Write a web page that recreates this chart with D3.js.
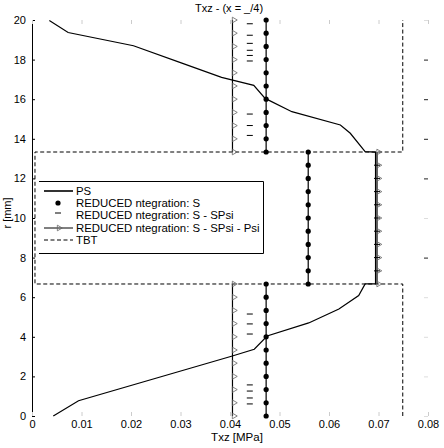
<!DOCTYPE html>
<html><head><meta charset="utf-8">
<script src="https://cdn.jsdelivr.net/npm/d3@7"></script>
<style>
body{margin:0;background:#fff;}
text{font-family:"Liberation Sans",Arial,sans-serif;font-size:11px;fill:#000;}
</style></head>
<body><svg id="c" width="444" height="448"></svg>
<script>
// ---- data ----
const xTicks = [0,0.01,0.02,0.03,0.04,0.05,0.06,0.07,0.08];
const xTickLabels = ["0","0.01","0.02","0.03","0.04","0.05","0.06","0.07","0.08"];
const yTicks = [0,2,4,6,8,10,12,14,16,18,20];
const seriesNames = ["PS","REDUCED  ntegration: S","REDUCED  ntegration: S - SPsi","REDUCED  ntegration: S - SPsi - Psi","TBT"];
const titleText = "Txz - (x = _/4)";
const xLabel = "Txz [MPa]";
const yLabel = "r [mm]";

// PS curve (x, z)
const psX = [0.0043,0.0094,0.0403,0.0449,0.0475,0.0559,0.0620,0.0660,0.0673,0.0694,0.0694,0.0673,0.0643,0.0623,0.0525,0.0471,0.0448,0.0383,0.0300,0.0205,0.0073,0.0035];
const psZ = [0.00,0.77,3.02,3.37,4.04,4.70,5.40,6.08,6.67,6.67,13.33,13.35,14.28,14.70,15.37,16.04,16.70,17.10,17.85,18.70,19.37,19.97];

// layered z grid (10 sub-steps per layer)
const zLow  = [0,0.667,1.333,2,2.667,3.333,4,4.667,5.333,6,6.667];
const zMid  = [6.667,7.333,8,8.667,9.333,10,10.667,11.333,12,12.667,13.333];
const zTop  = [13.333,14,14.667,15.333,16,16.667,17.333,18,18.667,19.333,20];

// REDUCED S values per layer
const sLayerX = [0.0473,0.0558,0.0473];
// REDUCED S - SPsi values per layer and visible marker z
const sspX = [0.0440,0.0697,0.0440];
const sspZLow = [0.61,0.91,1.26,1.57,4.14,4.65,5.15];
const sspZMid = [7.33,8,8.667,9.333,10,10.667,11.333,12,12.667];
const sspZTop = [14.17,14.67,15.25,17.93,18.21,18.47,18.82,19.23,19.81];
// REDUCED S - SPsi - Psi values per layer
const ssppX = [0.0405,0.0697,0.0405];
// TBT
const tbtX = [0.0749,0.0749,0.0006,0.0006,0.0749,0.0749];
const tbtZ = [0,6.667,6.667,13.333,13.333,20];

// ---- chart ----
const svg = d3.select("#c");
const x = d3.scaleLinear().domain([0,0.08]).range([32,428]);
const y = d3.scaleLinear().domain([0,20]).range([416,20]);
const line = d3.line().x(d=>x(d[0])).y(d=>y(d[1]));

// left axis
const gl = svg.append("g").attr("transform","translate(32,0)")
  .call(d3.axisLeft(y).tickValues(yTicks).tickSize(-3).tickPadding(6).tickFormat(d3.format("d")));
gl.select(".domain").attr("stroke","#000");
gl.selectAll("text").style("font-family","Liberation Sans, Arial").style("font-size","11px");
// bottom ticks (faint) + labels
const gb = svg.append("g").attr("transform","translate(0,416)")
  .call(d3.axisBottom(x).tickValues(xTicks).tickSize(-4).tickPadding(4).tickFormat((d,i)=>xTickLabels[i]));
gb.select(".domain").remove();
gb.selectAll("line").attr("stroke","#ccc");
gb.selectAll("text").style("font-family","Liberation Sans, Arial").style("font-size","11px");
// top faint ticks
const gt = svg.append("g").attr("transform","translate(0,20)")
  .call(d3.axisTop(x).tickValues(xTicks).tickSize(-4).tickFormat(""));
gt.select(".domain").remove();
gt.selectAll("line").attr("stroke","#ccc");
// right ticks
const gr = svg.append("g").attr("transform","translate(428,0)")
  .call(d3.axisRight(y).tickValues(yTicks).tickSize(-4).tickFormat(""));
gr.select(".domain").remove();
gr.selectAll("line").attr("stroke",(d)=> [12,14,16,18,8].includes(d)?"#222":"#ddd");

// TBT dashed
svg.append("path").datum(tbtX.map((v,i)=>[v,tbtZ[i]]))
  .attr("d",line).attr("fill","none").attr("stroke","#000").attr("stroke-width",1).attr("stroke-dasharray","4,2.5");

// PS
svg.append("path").datum(psX.map((v,i)=>[v,psZ[i]]))
  .attr("d",line).attr("fill","none").attr("stroke","#000").attr("stroke-width",1.2);

const layersZ = [zLow,zMid,zTop];
// S - SPsi - Psi lines + triangle markers
const tri = d3.symbol().type(d3.symbolTriangle).size(14);
layersZ.forEach((zs,k)=>{
  const pts = zs.map(z=>[ssppX[k],z]);
  svg.append("path").datum(pts).attr("d",line).attr("fill","none").attr("stroke","#000").attr("stroke-width",1.2);
  svg.append("g").selectAll("path").data(pts).join("path")
    .attr("d",tri).attr("transform",d=>`translate(${x(d[0])+1.5},${y(d[1])}) rotate(90)`)
    .attr("fill","none").attr("stroke","#666").attr("stroke-width",0.8);
});

// S - SPsi markers ("-")
[sspZLow,sspZMid,sspZTop].forEach((zs,k)=>{
  svg.append("g").selectAll("line").data(zs).join("line")
    .attr("x1",z=>x(sspX[k])-3).attr("x2",z=>x(sspX[k])+3)
    .attr("y1",z=>y(z)).attr("y2",z=>y(z))
    .attr("stroke","#000").attr("stroke-width",1);
});

// REDUCED S
layersZ.forEach((zs,k)=>{
  const pts = zs.map(z=>[sLayerX[k],z]);
  svg.append("path").datum(pts).attr("d",line).attr("fill","none").attr("stroke","#000").attr("stroke-width",1.2);
  svg.append("g").selectAll("circle").data(pts).join("circle")
    .attr("cx",d=>x(d[0])).attr("cy",d=>y(d[1])).attr("r",2.6).attr("fill","#000");
});

// legend
const lg = svg.append("g");
lg.append("rect").attr("x",39).attr("y",181).attr("width",225).attr("height",73).attr("fill","#fff").attr("stroke","none");
lg.append("path").attr("d","M39,181.5H263.5V253.5H39").attr("fill","none").attr("stroke","#000");
const rowY = [191,203,215,228,240];
seriesNames.forEach((n,i)=>{
  lg.append("text").attr("x",76).attr("y",rowY[i]+4).style("font-size","11.4px").text(n);
});
lg.append("line").attr("x1",44).attr("x2",73).attr("y1",rowY[0]).attr("y2",rowY[0]).attr("stroke","#000").attr("stroke-width",1.6);
lg.append("circle").attr("cx",58).attr("cy",rowY[1]).attr("r",2.6).attr("fill","#000");
lg.append("line").attr("x1",55).attr("x2",61).attr("y1",rowY[2]-2).attr("y2",rowY[2]-2).attr("stroke","#000");
lg.append("line").attr("x1",44).attr("x2",73).attr("y1",rowY[3]).attr("y2",rowY[3]).attr("stroke","#000");
lg.append("path").attr("d",tri).attr("transform",`translate(59,${rowY[3]}) rotate(90)`).attr("fill","none").attr("stroke","#666").attr("stroke-width",0.8);
lg.append("line").attr("x1",44).attr("x2",73).attr("y1",rowY[4]).attr("y2",rowY[4]).attr("stroke","#000").attr("stroke-dasharray","4,2.5");

// labels
svg.append("text").attr("x",229).attr("y",12).attr("text-anchor","middle").text(titleText);
svg.append("text").attr("x",237).attr("y",441).attr("text-anchor","middle").style("font-size","11.5px").text(xLabel);
svg.append("text").attr("transform","translate(11,213) rotate(-90)").attr("text-anchor","middle").text(yLabel);
</script></body></html>
